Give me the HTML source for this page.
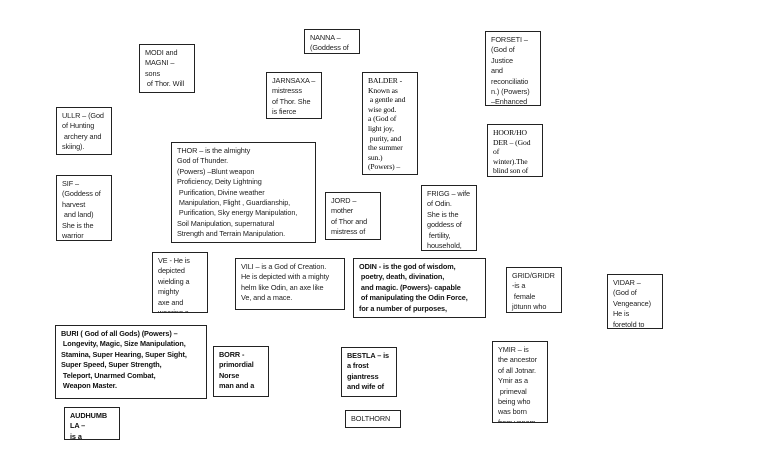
<!DOCTYPE html>
<html><head><meta charset="utf-8"><style>
body{margin:0;width:768px;height:466px;background:#fff;position:relative;overflow:hidden;font-family:"Liberation Sans",sans-serif;}
.b{position:absolute;box-sizing:border-box;border:1.3px solid #222;padding:3px 0 0 5px;font-size:7.3px;line-height:10.4px;color:#222;overflow:hidden;white-space:pre;letter-spacing:-0.1px}
.k{font-weight:bold;color:#111}
.s{font-family:"Liberation Serif",serif;color:#000;line-height:9.6px;font-size:7.6px}
</style></head><body>
<div class="b" style="left:139px;top:44px;width:56px;height:49px">MODI and
MAGNI –
sons
 of Thor. Will</div>
<div class="b" style="left:304px;top:29px;width:56px;height:25px">NANNA –
(Goddess of</div>
<div class="b" style="left:266px;top:72px;width:56px;height:47px">JARNSAXA –
mistresss
of Thor. She
is fierce</div>
<div class="b s" style="left:362px;top:72px;width:56px;height:103px">BALDER -
Known as
 a gentle and
wise god.
a (God of
light joy,
 purity, and
the summer
sun.)
(Powers) –
Enhanced</div>
<div class="b" style="left:485px;top:31px;width:56px;height:75px">FORSETI –
(God of
Justice
and
reconciliatio
n.) (Powers)
–Enhanced</div>
<div class="b s" style="left:487px;top:124px;width:56px;height:53px">HOOR/HO
DER – (God
of
winter).The
blind son of</div>
<div class="b" style="left:56px;top:107px;width:56px;height:48px">ULLR – (God
of Hunting
 archery and
skiing).</div>
<div class="b" style="left:56px;top:175px;width:56px;height:66px">SIF –
(Goddess of
harvest
 and land)
She is the
warrior</div>
<div class="b" style="left:171px;top:142px;width:145px;height:101px">THOR – is the almighty
God of Thunder.
(Powers) –Blunt weapon
Proficiency, Deity Lightning
 Purification, Divine weather
 Manipulation, Flight , Guardianship,
 Purification, Sky energy Manipulation,
Soil Manipulation, supernatural
Strength and Terrain Manipulation.</div>
<div class="b" style="left:325px;top:192px;width:56px;height:48px">JORD –
mother
of Thor and
mistress of</div>
<div class="b" style="left:421px;top:185px;width:56px;height:66px">FRIGG – wife
of Odin.
She is the
goddess of
 fertility,
household,</div>
<div class="b" style="left:152px;top:252px;width:56px;height:61px">VE - He is
depicted
wielding a
mighty
axe and
wearing a</div>
<div class="b" style="left:235px;top:258px;width:110px;height:52px">VILI – is a God of Creation.
He is depicted with a mighty
helm like Odin, an axe like
Ve, and a mace.</div>
<div class="b k" style="left:353px;top:258px;width:133px;height:60px">ODIN - is the god of wisdom,
 poetry, death, divination,
 and magic. (Powers)- capable
 of manipulating the Odin Force,
for a number of purposes,</div>
<div class="b" style="left:506px;top:267px;width:56px;height:46px">GRID/GRIDR
-is a
 female
jötunn who</div>
<div class="b" style="left:607px;top:274px;width:56px;height:55px">VIDAR –
(God of
Vengeance)
He is
foretold to</div>
<div class="b k" style="left:55px;top:325px;width:152px;height:74px">BURI ( God of all Gods) (Powers) –
 Longevity, Magic, Size Manipulation,
Stamina, Super Hearing, Super Sight,
Super Speed, Super Strength,
 Teleport, Unarmed Combat,
 Weapon Master.</div>
<div class="b k" style="left:213px;top:346px;width:56px;height:51px">BORR -
primordial
Norse
man and a</div>
<div class="b k" style="left:341px;top:347px;width:56px;height:50px">BESTLA – is
a frost
giantress
and wife of</div>
<div class="b" style="left:492px;top:341px;width:56px;height:82px">YMIR – is
the ancestor
of all Jotnar.
Ymir as a
 primeval
being who
was born
from venom</div>
<div class="b k" style="left:64px;top:407px;width:56px;height:33px">AUDHUMB
LA –
is a</div>
<div class="b" style="left:345px;top:410px;width:56px;height:18px">BOLTHORN</div>
</body></html>
